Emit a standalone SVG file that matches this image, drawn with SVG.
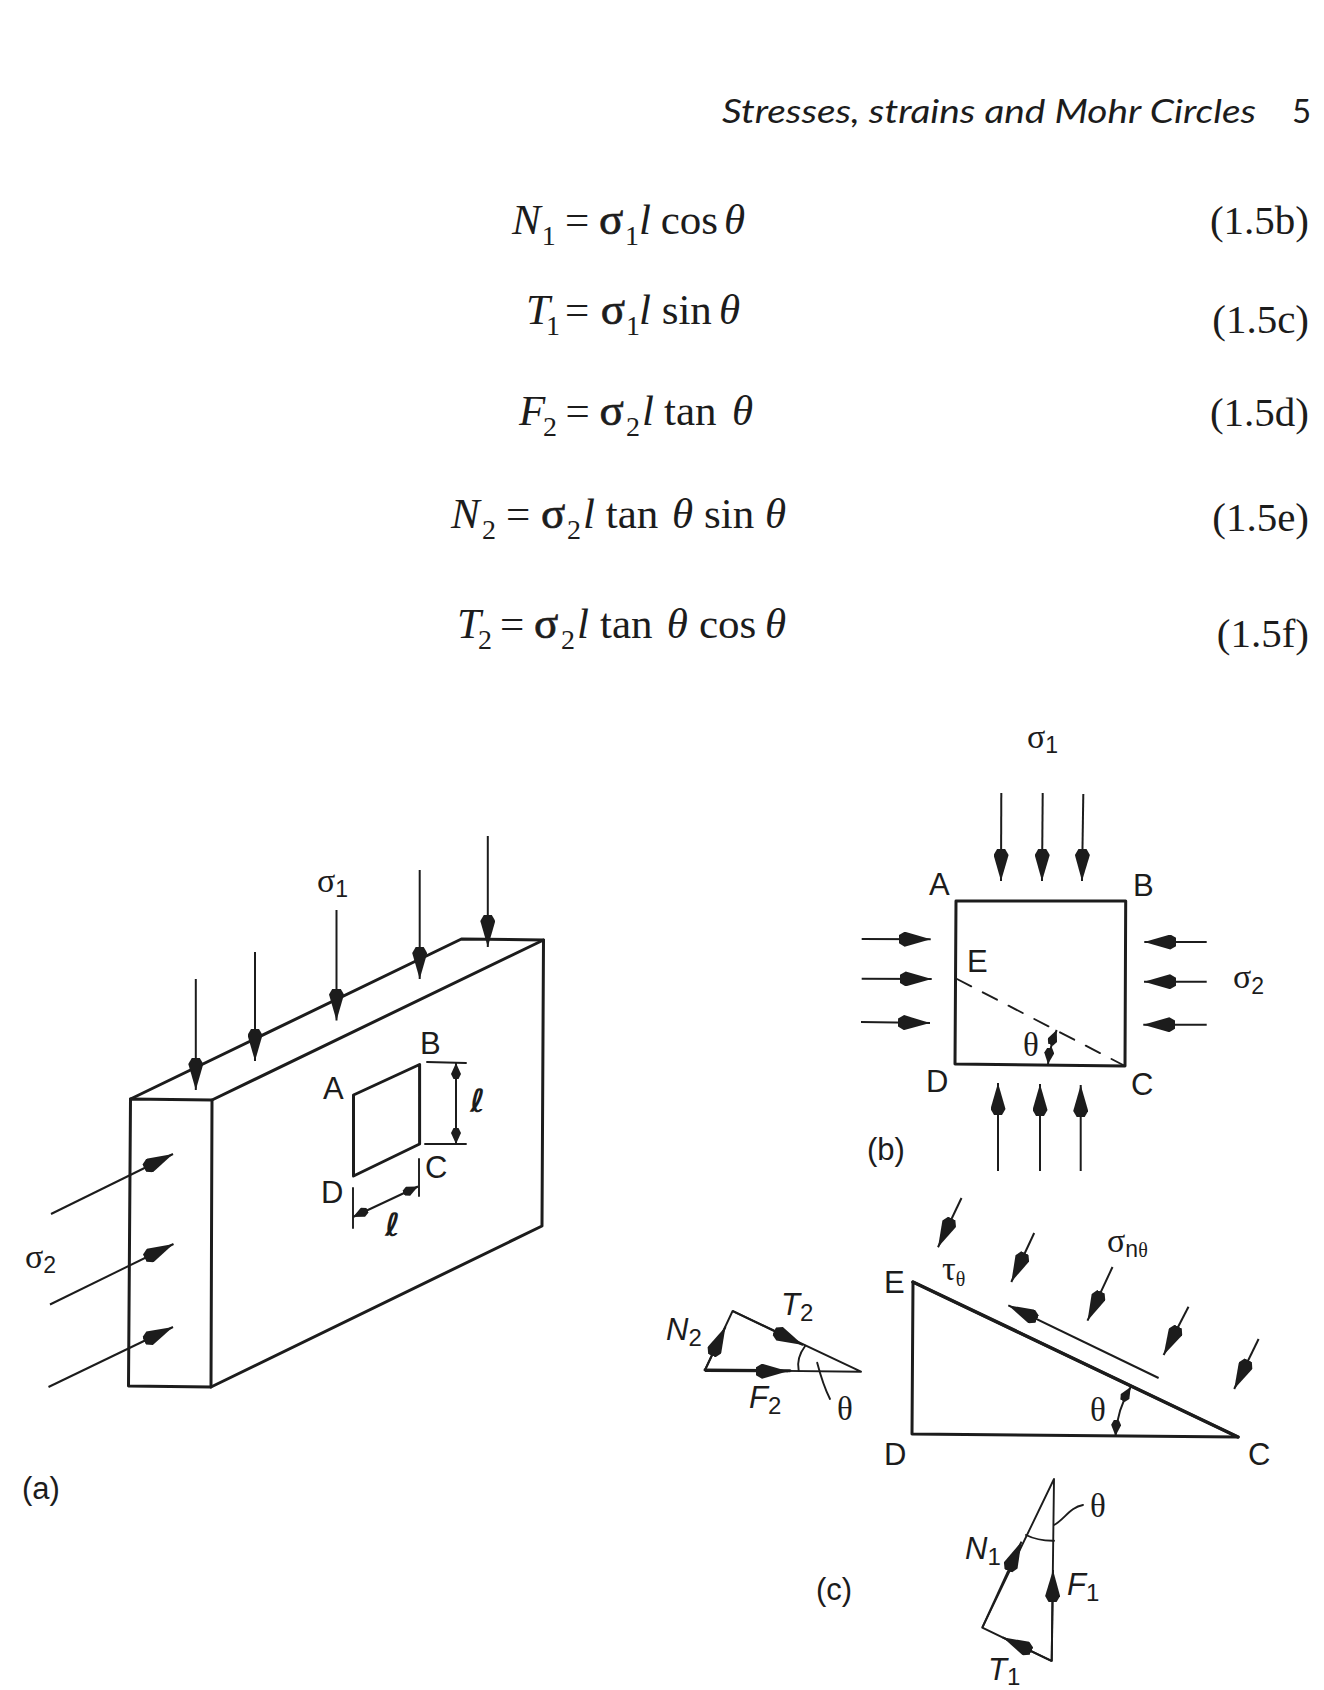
<svg xmlns="http://www.w3.org/2000/svg" width="1324" height="1690" viewBox="0 0 1324 1690">
<style>
text{fill:#1c1c1c}
.e{font:43px "Liberation Serif",serif}
.i{font-style:italic}
.b{stroke:#1c1c1c;stroke-width:.7;font-size:45px}
.s{font-size:28px}
.h{font:italic 33px "Lato",sans-serif}
.L{font:31px "Liberation Sans",sans-serif}
.G{font:34px "Liberation Serif",serif}
.g{font:23px "Liberation Sans",sans-serif}
.gs{font:20px "Liberation Serif",serif}
.t{font:33px "Liberation Serif",serif}
.F{font:italic 31px "Liberation Sans",sans-serif}
.f{font-style:normal;font-size:24px}
.m{font:italic bold 32px "DejaVu Sans",sans-serif}
.k{fill:none;stroke:#1c1c1c;stroke-width:3;stroke-linejoin:round;stroke-linecap:round}
.h4{stroke-width:3.6}
.n{fill:none;stroke:#1c1c1c;stroke-width:1.9;stroke-linejoin:round;stroke-linecap:round}
.a{fill:none;stroke:#1c1c1c;stroke-width:2;marker-end:url(#dart)}
.d{fill:none;stroke:#1c1c1c;stroke-width:2;marker-end:url(#small);marker-start:url(#small)}
</style>
<defs>
<marker id="dart" markerUnits="userSpaceOnUse" markerWidth="32" markerHeight="15" viewBox="0 0 32 15" refX="32" refY="7.5" orient="auto"><path d="M0,3.5 L6,0 L32,7.5 L6,15 L0,11.5Z" fill="#1c1c1c"/></marker>
<marker id="small" markerUnits="userSpaceOnUse" markerWidth="16" markerHeight="10" viewBox="0 0 16 10" refX="16" refY="5" orient="auto-start-reverse"><path d="M0,2.5 L5,0 L16,5 L5,10 L0,7.5Z" fill="#1c1c1c"/></marker>
</defs>
<rect width="1324" height="1690" fill="#fff"/>

<g id="header">
<text class="h" x="722" y="123" textLength="534" lengthAdjust="spacingAndGlyphs">Stresses, strains and Mohr Circles</text>
<text x="1292" y="123" style="font:33px Lato,sans-serif">5</text>
</g>

<g id="equations">
<text class="e"><tspan class="i" x="512" y="234">N</tspan><tspan class="s" x="541.7" y="245">1</tspan><tspan x="565" y="234">=</tspan><tspan class="b" x="599" y="234">σ</tspan><tspan class="s" x="625" y="245">1</tspan><tspan class="i" x="639" y="234">l</tspan><tspan x="660.7" y="234">cos</tspan><tspan class="i" x="724" y="234">θ</tspan></text>
<text class="e"><tspan class="i" x="526" y="324">T</tspan><tspan class="s" x="546" y="335">1</tspan><tspan x="565" y="324">=</tspan><tspan class="b" x="600.7" y="324">σ</tspan><tspan class="s" x="626" y="335">1</tspan><tspan class="i" x="639" y="324">l</tspan><tspan x="661.7" y="324">sin</tspan><tspan class="i" x="719" y="324">θ</tspan></text>
<text class="e"><tspan class="i" x="519" y="425">F</tspan><tspan class="s" x="543" y="436">2</tspan><tspan x="565.4" y="425">=</tspan><tspan class="b" x="599.6" y="425">σ</tspan><tspan class="s" x="626" y="436">2</tspan><tspan class="i" x="642" y="425">l</tspan><tspan x="664" y="425">tan</tspan><tspan class="i" x="732" y="425">θ</tspan></text>
<text class="e"><tspan class="i" x="451" y="528">N</tspan><tspan class="s" x="482" y="539">2</tspan><tspan x="506" y="528">=</tspan><tspan class="b" x="541" y="528">σ</tspan><tspan class="s" x="567" y="539">2</tspan><tspan class="i" x="583" y="528">l</tspan><tspan x="605.7" y="528">tan</tspan><tspan class="i" x="672" y="528">θ</tspan><tspan x="704" y="528">sin</tspan><tspan class="i" x="765" y="528">θ</tspan></text>
<text class="e"><tspan class="i" x="457" y="638">T</tspan><tspan class="s" x="478" y="649">2</tspan><tspan x="500" y="638">=</tspan><tspan class="b" x="534" y="638">σ</tspan><tspan class="s" x="561" y="649">2</tspan><tspan class="i" x="577" y="638">l</tspan><tspan x="600" y="638">tan</tspan><tspan class="i" x="666.7" y="638">θ</tspan><tspan x="699" y="638">cos</tspan><tspan class="i" x="765" y="638">θ</tspan></text>
<g text-anchor="end">
<text class="e" style="font-size:41px" x="1309" y="234">(1.5b)</text>
<text class="e" style="font-size:41px" x="1309" y="333">(1.5c)</text>
<text class="e" style="font-size:41px" x="1309" y="426">(1.5d)</text>
<text class="e" style="font-size:41px" x="1309" y="531">(1.5e)</text>
<text class="e" style="font-size:41px" x="1309" y="647">(1.5f)</text>
</g>
</g>

<g id="block-a">
<path class="k" d="M130.5,1099 L212,1100 L211,1387 L128.5,1386 Z"/>
<path class="k" d="M130.5,1099 L461.4,939 L543.5,940 L542,1226 L211,1387"/>
<path class="k" d="M212,1100 L543.5,940"/>
</g>
<g id="element-a">
<path class="k" d="M353.5,1095 L419.6,1064.5 L419.6,1144 L353.5,1176 Z"/>
<path class="n" d="M427,1062 L466,1063 M425,1144 L466,1144 M353,1188 L353,1228 M419,1159 L419,1196"/>
</g>
<g id="labels-a">
<text class="G" x="317" y="892">σ<tspan class="g" dy="5">1</tspan></text>
<text class="G" x="25" y="1268">σ<tspan class="g" dy="5">2</tspan></text>
<text class="L" x="323" y="1099">A</text>
<text class="L" x="420" y="1054">B</text>
<text class="L" x="425" y="1178">C</text>
<text class="L" x="321" y="1203">D</text>
<text class="m" x="470" y="1112">ℓ</text>
<text class="m" x="385" y="1236">ℓ</text>
<text class="L" x="22" y="1499" style="font-size:31px">(a)</text>
</g>

<g id="square-b">
<path class="k" d="M956,901 L1125.7,901 L1125,1066 L955,1064 Z"/>
<path class="n" stroke-dasharray="16 13" d="M957,979 L1125,1066"/>
</g>
<g id="labels-b">
<text class="G" x="1027" y="748">σ<tspan class="g" dy="5">1</tspan></text>
<text class="G" x="1233" y="988">σ<tspan class="g" dy="6">2</tspan></text>
<text class="L" x="929" y="895">A</text>
<text class="L" x="1133" y="896">B</text>
<text class="L" x="967" y="972">E</text>
<text class="L" x="926" y="1092">D</text>
<text class="L" x="1131" y="1095">C</text>
<text class="t" x="1023" y="1056">θ</text>
<text class="L" x="867" y="1160" style="font-size:31px">(b)</text>
</g>

<g id="triangle-c">
<path class="k" d="M913,1282 L912,1434 L1238,1437 Z"/>
<path class="k h4" d="M913,1282 L1238,1437"/>
</g>
<g id="labels-c">
<text class="L" x="884" y="1293">E</text>
<text class="L" x="884" y="1465">D</text>
<text class="L" x="1248" y="1465">C</text>
<text class="G" x="942" y="1280">τ<tspan class="gs" dy="6">θ</tspan></text>
<text class="G" x="1107" y="1252">σ<tspan class="g" dy="5">n</tspan><tspan class="gs">θ</tspan></text>
<text class="t" x="1090" y="1421">θ</text>
<text class="L" x="816" y="1600" style="font-size:31px">(c)</text>
</g>

<g id="force-triangle-2">
<path class="n" d="M732.6,1311 L705,1370 L861,1371.7 Z"/>
<path class="n" d="M705,1370 L790,1370.7" style="stroke-width:3"/>
<path class="n" d="M805.3,1345.7 Q796,1358 798.7,1370.7 M817.2,1362.7 Q823,1385 830,1399"/>
<text class="F" x="666" y="1340">N<tspan class="f" dy="6">2</tspan></text>
<text class="F" x="781" y="1315">T<tspan class="f" dy="6">2</tspan></text>
<text class="F" x="749" y="1408">F<tspan class="f" dy="6">2</tspan></text>
<text class="t" x="837" y="1420">θ</text>
</g>
<g id="force-triangle-1">
<path class="n" d="M1054,1479 L982.3,1627.7 L1051.7,1661 Z"/>
<path class="n" d="M1026,1535 Q1038,1541 1054,1540.7 M1054,1525 C1064,1520 1070,1507 1083,1505"/>
<text class="F" x="965" y="1559">N<tspan class="f" dy="6">1</tspan></text>
<text class="F" x="1067" y="1595">F<tspan class="f" dy="6">1</tspan></text>
<text class="F" x="988" y="1680">T<tspan class="f" dy="5">1</tspan></text>
<text class="t" x="1090" y="1517">θ</text>
</g>

<g id="connectors">
<line class="a" x1="195.8" y1="979" x2="195.8" y2="1090"/>
<line class="a" x1="255" y1="952" x2="255" y2="1061"/>
<line class="a" x1="336.5" y1="910" x2="336.5" y2="1020.5"/>
<line class="a" x1="419.7" y1="870" x2="419.7" y2="979"/>
<line class="a" x1="487.8" y1="836" x2="487.8" y2="947"/>
<line class="a" x1="51" y1="1214" x2="173" y2="1154"/>
<line class="a" x1="50" y1="1304.5" x2="173.5" y2="1244"/>
<line class="a" x1="48.5" y1="1387" x2="173" y2="1327"/>
<line class="d" x1="456" y1="1063" x2="456" y2="1144"/>
<line class="d" x1="353" y1="1217" x2="418" y2="1186.5"/>

<line class="a" x1="1001.3" y1="793" x2="1001" y2="881"/>
<line class="a" x1="1042.7" y1="793" x2="1042" y2="881"/>
<line class="a" x1="1083.3" y1="794" x2="1082" y2="881"/>
<line class="a" x1="998" y1="1171" x2="998" y2="1083"/>
<line class="a" x1="1040" y1="1171" x2="1040" y2="1084"/>
<line class="a" x1="1080.7" y1="1171" x2="1080.7" y2="1085"/>
<line class="a" x1="861.7" y1="939" x2="930.7" y2="939.3"/>
<line class="a" x1="861.7" y1="978.7" x2="931.7" y2="979"/>
<line class="a" x1="861" y1="1022" x2="930" y2="1023"/>
<line class="a" x1="1206.7" y1="942" x2="1144.3" y2="942"/>
<line class="a" x1="1206.7" y1="981.7" x2="1144" y2="981.7"/>
<line class="a" x1="1206.7" y1="1024.7" x2="1143.3" y2="1024.7"/>
<path class="d" d="M1048,1064 Q1050,1046 1056.7,1030"/>

<line class="a" x1="961.5" y1="1198" x2="938" y2="1247.3"/>
<line class="a" x1="1034.2" y1="1233" x2="1011.3" y2="1282"/>
<line class="a" x1="1112.5" y1="1267" x2="1087.5" y2="1320.7"/>
<line class="a" x1="1188.5" y1="1306.7" x2="1163.6" y2="1355"/>
<line class="a" x1="1258.6" y1="1339" x2="1234.2" y2="1389"/>
<line class="a" x1="1158.6" y1="1378" x2="1008.3" y2="1305.3"/>
<path class="d" d="M1130.7,1387 Q1117,1410 1115.5,1436"/>

<line class="a" x1="732.6" y1="1311" x2="803" y2="1345"/>
<line class="a" x1="705" y1="1370" x2="725.5" y2="1326.7"/>
<line class="a" x1="705" y1="1371" x2="788" y2="1371.3"/>
<line class="a" x1="982.3" y1="1627.7" x2="1021.5" y2="1541.7"/>
<line class="a" x1="1051.7" y1="1661" x2="1053" y2="1570"/>
<line class="a" x1="1051.7" y1="1661" x2="1002.6" y2="1637.3"/>
</g>
</svg>
